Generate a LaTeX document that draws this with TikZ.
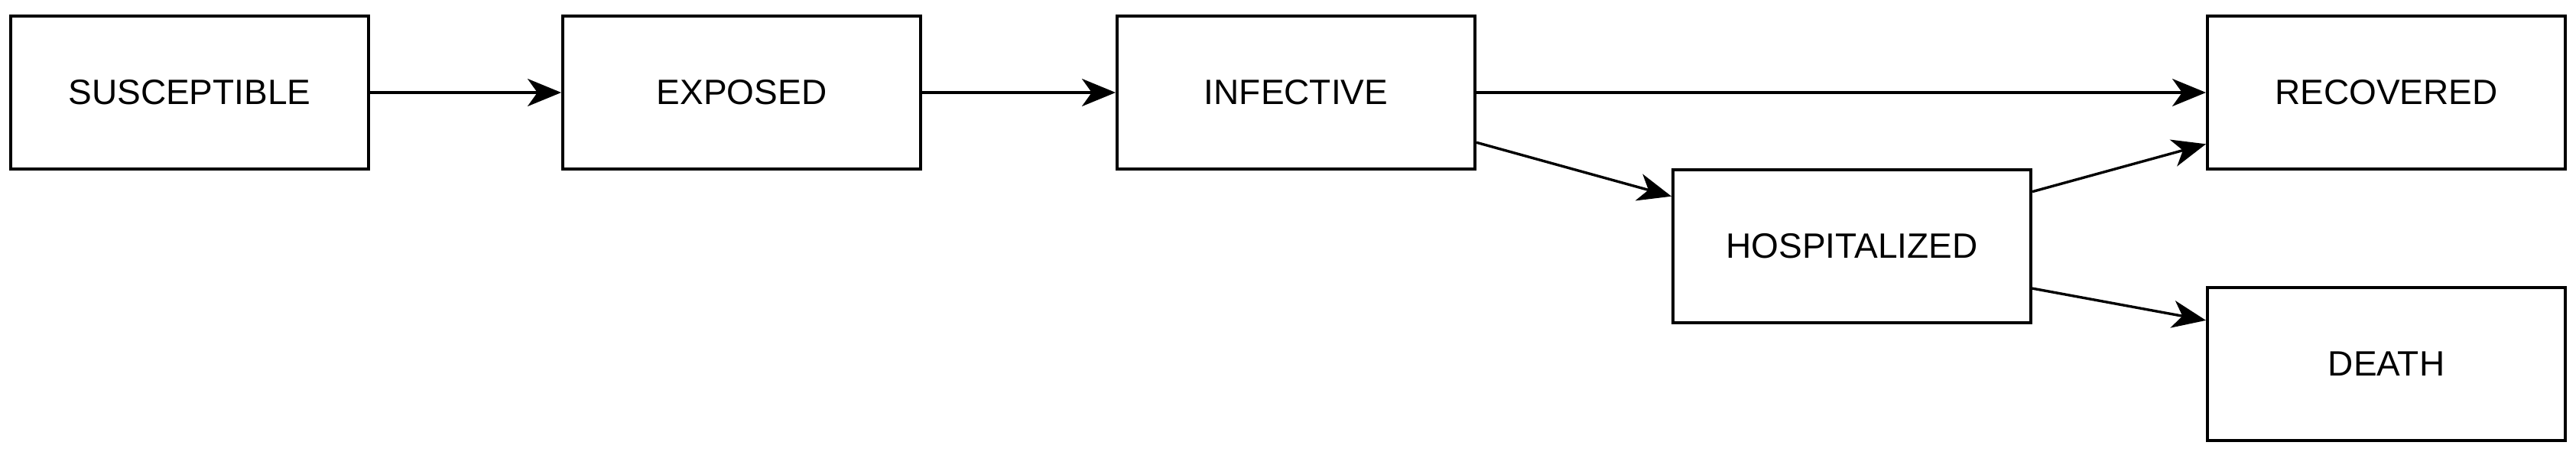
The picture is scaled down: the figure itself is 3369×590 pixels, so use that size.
\documentclass[tikz,border=0pt]{standalone}
\usepackage{fontspec}
\setmainfont{Liberation Sans}
\usetikzlibrary{arrows.meta,calc}
\begin{document}
\begin{tikzpicture}[x=0.25pt,y=-0.25pt,
  stage/.style={draw=black,line width=1pt,fill=white,rectangle,inner sep=0pt,
    minimum width=117pt,minimum height=50pt,font=\fontsize{11.5}{13}\selectfont},
  flow/.style={line width=0.85pt,-{Stealth[length=11pt,width=9pt,inset=3.2pt]}}]
\useasboundingbox (0,0) rectangle (3369,590);
\node[stage] (S) at (248,121) {SUSCEPTIBLE};
\node[stage] (E) at (970,121) {EXPOSED};
\node[stage] (I) at (1695,121) {INFECTIVE};
\node[stage] (R) at (3121,121) {RECOVERED};
\node[stage] (H) at (2422,322) {HOSPITALIZED};
\node[stage] (D) at (3121,476) {DEATH};
\draw[flow] (S.east) -- (E.west);
\draw[flow] (E.east) -- (I.west);
\draw[flow] (I.east) -- (R.west);
\draw[flow] ($(I.north east)!0.82!(I.south east)$) -- ($(H.north west)!0.18!(H.south west)$);
\draw[flow] ($(H.north east)!0.15!(H.south east)$) -- ($(R.north west)!0.83!(R.south west)$);
\draw[flow] ($(H.north east)!0.77!(H.south east)$) -- ($(D.north west)!0.22!(D.south west)$);
\end{tikzpicture}
\end{document}
